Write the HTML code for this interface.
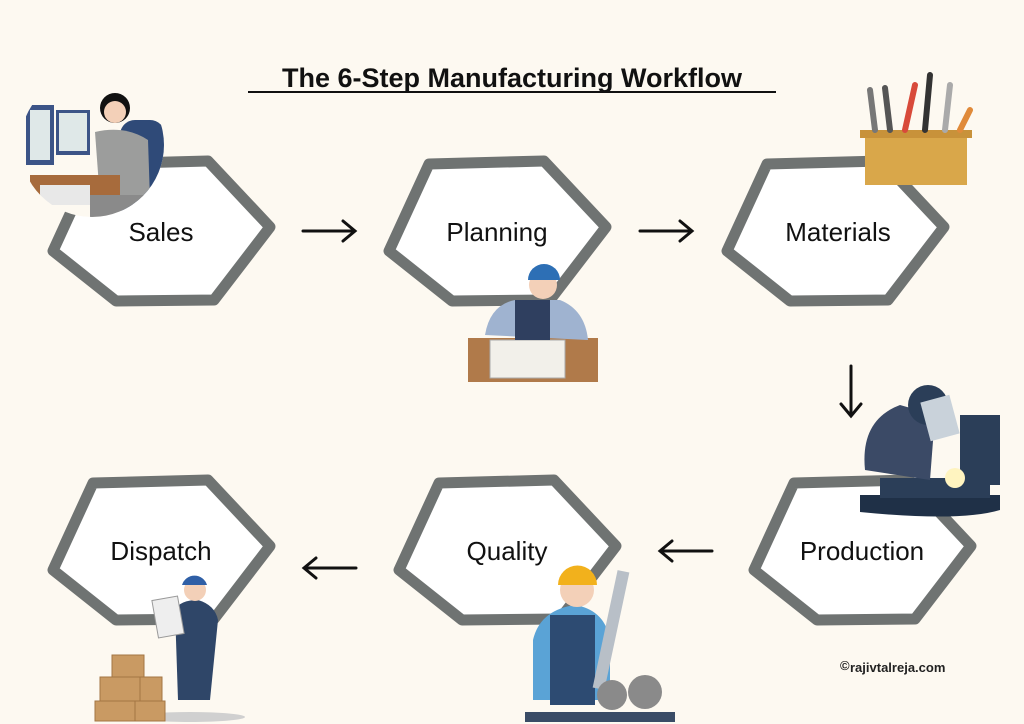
<!DOCTYPE html>
<html><head><style>
body{margin:0;background:#fdf9f1;}
svg{display:block}
</style></head><body>
<svg width="1024" height="724" viewBox="0 0 1024 724" xmlns="http://www.w3.org/2000/svg">
<rect width="1024" height="724" fill="#fdf9f1"/>
<defs>
<g id="hex"><path d="M93 164 L208 161 L270 227 L214 300 L116 301 L53 251 Z" fill="#fff" stroke="#6f7372" stroke-width="11" stroke-linejoin="round"/></g>
</defs>
<text x="512" y="87" text-anchor="middle" font-family="Liberation Sans, sans-serif" font-size="27" font-weight="bold" fill="#111">The 6-Step Manufacturing Workflow</text>
<line x1="248" y1="92" x2="776" y2="92" stroke="#111" stroke-width="2"/>
<use href="#hex"/>
<use href="#hex" x="336"/>
<use href="#hex" x="674"/>
<use href="#hex" y="319"/>
<use href="#hex" x="346" y="319"/>
<use href="#hex" x="701" y="319"/>
<g font-family="Liberation Sans, sans-serif" font-size="26" fill="#111" text-anchor="middle">
<text x="161" y="241">Sales</text>
<text x="497" y="241">Planning</text>
<text x="838" y="241">Materials</text>
<text x="161" y="560">Dispatch</text>
<text x="507" y="560">Quality</text>
<text x="862" y="560">Production</text>
</g>
<g stroke="#111" stroke-width="3" fill="none" stroke-linecap="round">
<path d="M303 231 H354 M343 221 L355 231 L343 241"/>
<path d="M640 231 H691 M680 221 L692 231 L680 241"/>
<path d="M851 366 V415 M841 404 L851 416 L861 404"/>
<path d="M712 551 H661 M672 541 L660 551 L672 561"/>
<path d="M356 568 H305 M316 558 L304 568 L316 578"/>
</g>
<!-- sales illustration -->
<circle cx="92" cy="145" r="72" fill="#fdf9f1"/>
<clipPath id="c1"><circle cx="92" cy="145" r="72"/></clipPath>
<g clip-path="url(#c1)">
<rect x="26" y="105" width="28" height="60" fill="#3c5487"/><rect x="56" y="110" width="34" height="45" fill="#3c5487"/>
<rect x="30" y="110" width="20" height="50" fill="#dfe8e8"/><rect x="59" y="113" width="28" height="38" fill="#dfe8e8"/>
<rect x="120" y="120" width="45" height="100" rx="15" fill="#2f4a78"/>
<path d="M95 132 Q125 125 148 140 L150 200 L100 200 Z" fill="#9c9d9c"/>
<circle cx="115" cy="108" r="15" fill="#111"/><circle cx="115" cy="112" r="11" fill="#f3d0b8"/>
<rect x="30" y="175" width="90" height="20" fill="#a76b3c"/>
<rect x="40" y="185" width="50" height="20" fill="#e8e8e8"/>
<rect x="90" y="195" width="70" height="30" fill="#8a8a8a"/>
</g>
<!-- planning -->
<rect x="468" y="338" width="130" height="44" fill="#b07a4a"/>
<rect x="490" y="340" width="75" height="38" fill="#f2f0ea" stroke="#aaa"/>
<path d="M485 335 Q490 305 515 300 L560 300 Q585 310 588 340 Z" fill="#9fb3d0"/>
<rect x="515" y="300" width="35" height="40" fill="#2f3f5f"/>
<circle cx="543" cy="285" r="14" fill="#f3d0b8"/>
<path d="M528 280 A16 16 0 0 1 560 280 Z" fill="#2d6fb5"/>
<!-- materials toolbox -->
<rect x="865" y="135" width="102" height="50" fill="#d9a74a"/>
<rect x="860" y="130" width="112" height="8" fill="#c8923a"/>
<g stroke-width="6" stroke-linecap="round">
<line x1="875" y1="130" x2="870" y2="90" stroke="#777"/>
<line x1="890" y1="130" x2="885" y2="88" stroke="#555"/>
<line x1="905" y1="130" x2="915" y2="85" stroke="#d84a3a"/>
<line x1="925" y1="130" x2="930" y2="75" stroke="#333"/>
<line x1="945" y1="130" x2="950" y2="85" stroke="#aaa"/>
<line x1="960" y1="130" x2="970" y2="110" stroke="#e08a3a"/>
</g>
<!-- production welder -->
<path d="M860 495 L1000 495 L1000 510 Q960 522 860 512 Z" fill="#1f3047"/>
<rect x="880" y="478" width="110" height="20" fill="#2b3e58"/>
<path d="M865 470 Q860 420 900 405 L935 415 L930 480 Z" fill="#3b4a66"/>
<circle cx="928" cy="405" r="20" fill="#2b3e58"/>
<rect x="925" y="398" width="30" height="40" fill="#c9d2da" transform="rotate(-15 940 418)"/>
<rect x="960" y="415" width="40" height="70" fill="#2b3e58"/>
<circle cx="955" cy="478" r="10" fill="#fff4c0"/>
<!-- quality -->
<path d="M533 700 L533 640 Q540 610 575 605 Q605 610 610 640 L610 700 Z" fill="#5aa3d6"/>
<rect x="550" y="615" width="45" height="90" fill="#2d4b72"/>
<circle cx="577" cy="590" r="17" fill="#f3d0b8"/>
<path d="M558 585 A19 19 0 0 1 597 585 Z" fill="#f2b11c"/>
<rect x="605" y="570" width="12" height="120" fill="#b8bfc7" transform="rotate(12 611 630)"/>
<circle cx="612" cy="695" r="15" fill="#8a8a8a"/><circle cx="645" cy="692" r="17" fill="#8a8a8a"/>
<rect x="525" y="712" width="150" height="10" fill="#3a4c66"/>
<!-- dispatch -->
<path d="M175 610 Q180 600 198 600 Q215 605 218 620 L210 700 L178 700 Z" fill="#2f4668"/>
<circle cx="195" cy="590" r="11" fill="#f3d0b8"/>
<path d="M182 585 A13 13 0 0 1 207 585 Z" fill="#2f5fa6"/>
<rect x="155" y="598" width="26" height="38" fill="#eee" stroke="#999" transform="rotate(-10 168 617)"/>
<ellipse cx="190" cy="717" rx="55" ry="5" fill="#d0d0d0"/>
<g fill="#c99a63" stroke="#a47543">
<rect x="112" y="655" width="32" height="22"/><rect x="100" y="677" width="40" height="24"/><rect x="140" y="677" width="22" height="24"/>
<rect x="95" y="701" width="40" height="20"/><rect x="135" y="701" width="30" height="20"/>
</g>
<text x="840" y="670" font-family="Liberation Sans, sans-serif" font-size="13" font-weight="bold" fill="#222">©</text>
<text x="850" y="672" font-family="Liberation Sans, sans-serif" font-size="13" font-weight="bold" fill="#222">rajivtalreja.com</text>
</svg>
</body></html>
